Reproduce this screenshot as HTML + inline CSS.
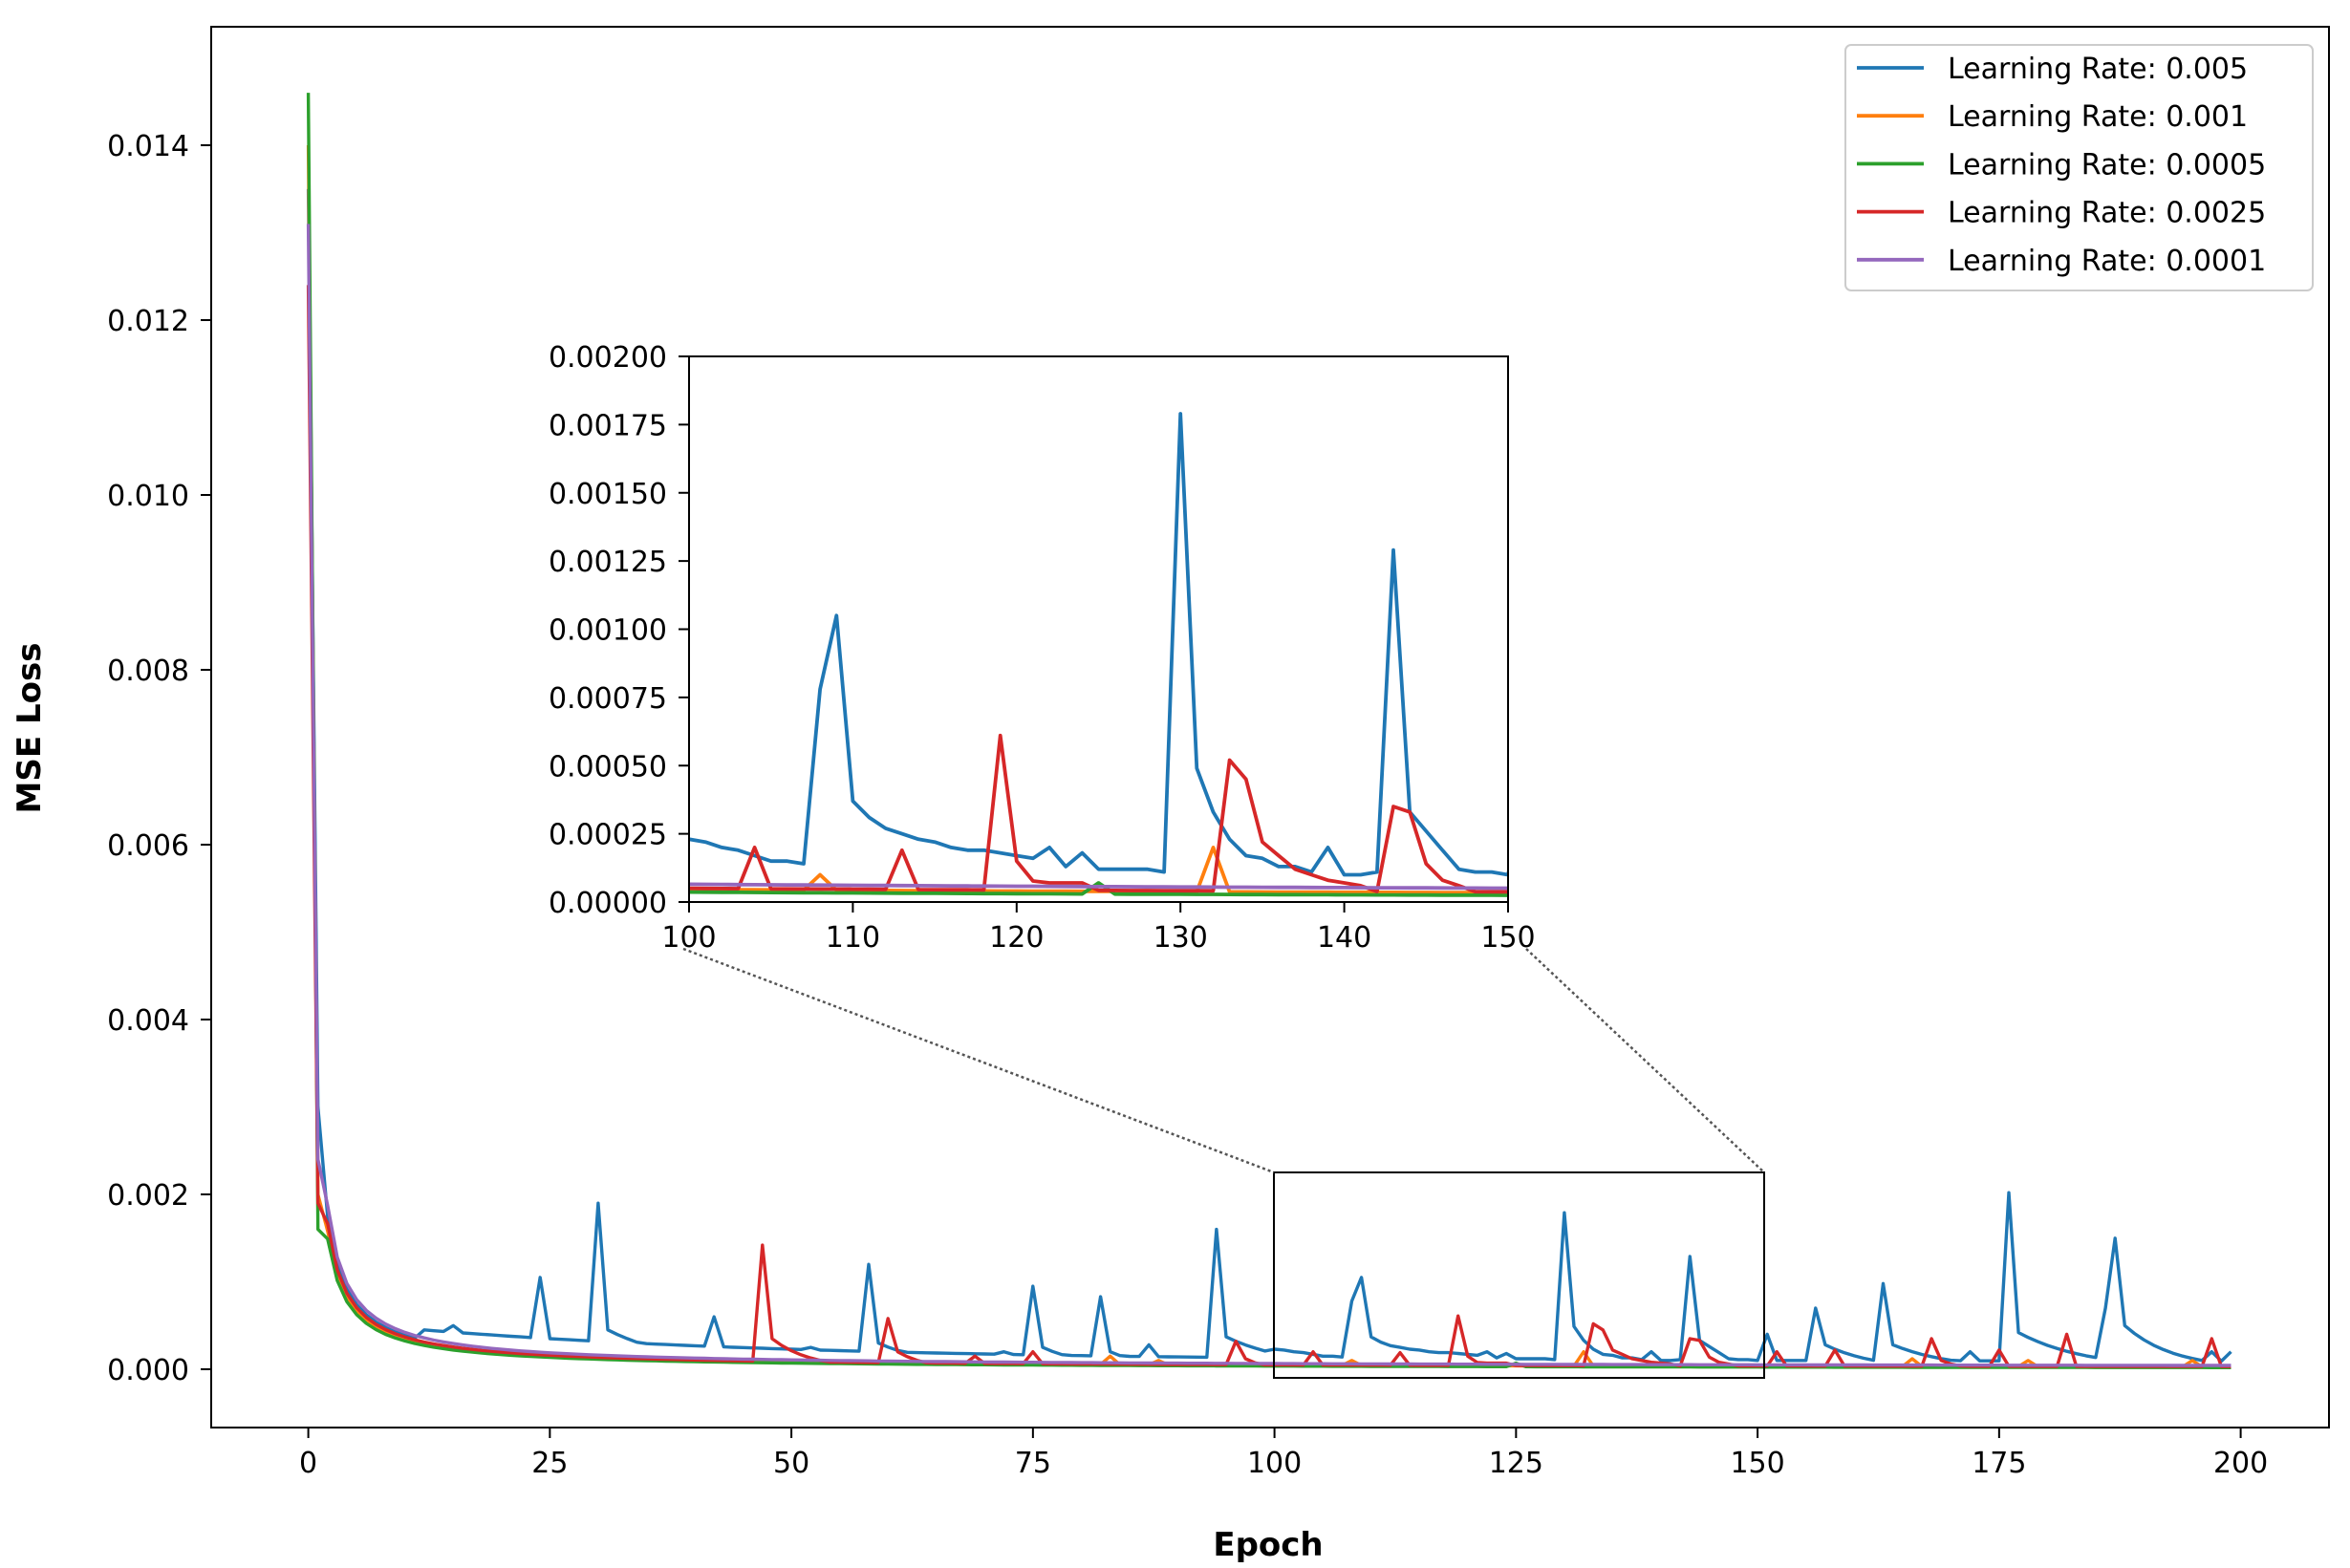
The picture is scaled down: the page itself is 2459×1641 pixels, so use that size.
<!DOCTYPE html>
<html><head><meta charset="utf-8"><style>
html,body{margin:0;padding:0;background:#fff;}
svg{display:block;font-family:"DejaVu Sans","Liberation Sans",sans-serif;}
</style></head><body>
<svg id="s" width="2459" height="1641" viewBox="0 0 2459 1641" xmlns="http://www.w3.org/2000/svg">
<rect width="2459" height="1641" fill="#fff"/>
<defs>
<clipPath id="cm"><rect x="221" y="28" width="2216" height="1466"/></clipPath>
<clipPath id="ci"><rect x="721" y="373" width="857" height="571"/></clipPath>
</defs>
<g id="main" clip-path="url(#cm)"></g>
<rect x="221" y="28" width="2216" height="1466" fill="none" stroke="#000" stroke-width="2"/>
<g id="mt" font-size="30" fill="#000"></g>
<text x="1327" y="1628" font-size="34" font-weight="bold" text-anchor="middle">Epoch</text>
<text transform="translate(42,762) rotate(-90)" font-size="34" font-weight="bold" text-anchor="middle">MSE Loss</text>
<rect x="1333" y="1227" width="513" height="215" fill="none" stroke="#000" stroke-width="2"/>
<line x1="715" y1="993" x2="1333" y2="1227" stroke="#555" stroke-width="2.5" stroke-dasharray="3,3"/>
<line x1="1597" y1="993" x2="1846" y2="1227" stroke="#555" stroke-width="2.5" stroke-dasharray="3,3"/>
<rect x="721" y="373" width="857" height="571" fill="#fff"/>
<g id="ins" clip-path="url(#ci)"></g>
<rect x="721" y="373" width="857" height="571" fill="none" stroke="#000" stroke-width="2"/>
<g id="it" font-size="30" fill="#000"></g>
<g id="leg">
<rect x="1931" y="47" width="489" height="257" rx="6" fill="#fff" stroke="#ccc" stroke-width="2"/>
</g>
</svg>
<script>
var C=["#1f77b4","#ff7f0e","#2ca02c","#d62728","#9467bd"];
var L=["Learning Rate: 0.005","Learning Rate: 0.001","Learning Rate: 0.0005","Learning Rate: 0.0025","Learning Rate: 0.0001"];
var N=200,S=[[],[],[],[],[]];
var starts=[0.0135,0.0140,0.0146,0.0124,0.0131];
var ones=[0.0030,0.0020,0.0016,0.0019,0.0024];
var mult=[1.05,0.95,0.9,1.0,1.12];
var bases=[0.00001,0.000008,0.0,0.00001,0.00002];
for(var e=0;e<N;e++){
 for(var i=0;i<5;i++){
  var v;
  if(e==0)v=starts[i];else if(e==1)v=ones[i];
  else{ v=bases[i]+0.0032*mult[i]*Math.pow(e,-0.95); }
  S[i].push(v);
 }
}
var b=S[0];
for(var e=12;e<N;e++){b[e]=Math.max(b[e],0.00009+0.00026*Math.exp(-(e-25)/40));}
function spike(arr,s,h,tail,k){arr[s]=h; if(tail){for(var j=1;j<30&&s+j<N;j++){var t=tail*Math.exp(-(j-1)/k); if(t>arr[s+j])arr[s+j]=t;}}}
var bs=[[15,0.0005,0],[24,0.00105,0.00032,6],[30,0.0019,0.00045,8],[42,0.0006,0.00022,4],[52,0.00025,0],[58,0.0012,0.0003,6],[72,0.0002,0],[75,0.00095,0.00025,5],[82,0.00083,0.0002,4],[87,0.00028,0],[94,0.0016,0.00037,7],
[108,0.00078,0],[109,0.00105,0.00037,9],[122,0.0002,0],[124,0.00018,0],[130,0.00179,0.00049,2.5],[139,0.0002,0],[143,0.00129,0.00033,2.5],[151,0.0004,0],[156,0.0007,0.00028,5],[163,0.00098,0.00028,6],[172,0.0002,0],[176,0.00202,0.00042,7],[186,0.0007,0],[187,0.0015,0.0005,5],[197,0.0002,0],[199,0.0002,0]];
var bd={100:0.00023,101:0.00022,102:0.0002,103:0.00019,104:0.00017,105:0.00015,106:0.00015,107:0.00014,121:0.00016,123:0.00013,125:0.00012,126:0.00012,127:0.00012,128:0.00012,129:0.00011,140:0.0001,141:0.0001,142:0.00011,148:0.00011,149:0.00011};
bs.forEach(function(p){spike(b,p[0],p[1],p[2],p[3]||5);});
for(var k in bd)b[+k]=bd[k];
b[110]=0.00037;b[144]=0.00033;b[145]=0.00026;b[146]=0.00019;b[147]=0.00012;b[150]=0.0001;
b[131]=0.00049;b[132]=0.00033;b[133]=0.00023;b[134]=0.00017;b[135]=0.00016;b[136]=0.00013;b[137]=0.00013;b[138]=0.00011;
var bt=[0.00031,0.00027,0.00025,0.00023,0.00022,0.0002,0.00019,0.00019,0.00018,0.00017];
for(var e=111;e<=120;e++)b[e]=bt[e-111];
var r=S[3];
[[47,0.00142,0.00035,4],[60,0.00058,0.0002,3],[69,0.00015,0],[75,0.0002,0],[96,0.00032,0.00012,2],[104,0.0002,0],[113,0.00019,0],[119,0.00061,0.00015,1.5],[133,0.00052,0],[143,0.00035,0],[152,0.0002,0],[158,0.00022,0],[168,0.00035,0.0001,2],[175,0.00022,0],[182,0.0004,0],[197,0.00035,0]].forEach(function(p){spike(r,p[0],p[1],p[2],p[3]||3);});
r[134]=0.00045;r[135]=0.00022;r[136]=0.00017;r[137]=0.00012;r[138]=0.0001;r[139]=0.00008;r[140]=0.00007;r[141]=0.00006;r[144]=0.00033;r[145]=0.00014;r[146]=0.00008;r[147]=0.00006;
r[122]=0.00007;r[123]=0.00007;r[124]=0.00007;
var o=S[1];[[83,0.00015],[88,0.0001],[108,0.0001],[132,0.0002],[166,0.00012],[178,0.0001],[195,0.0001]].forEach(function(p){o[p[0]]=p[1];});
S[2][125]=0.00007;
function pts(arr,X,Y,a,z){var s=[];for(var e=a;e<=z&&e<N;e++)s.push(X(e).toFixed(1)+","+Y(arr[e]).toFixed(1));return s.join(" ");}
var NS="http://www.w3.org/2000/svg";
function el(t,at,p){var x=document.createElementNS(NS,t);for(var k in at)x.setAttribute(k,at[k]);p.appendChild(x);return x;}
var MX=function(e){return 322.6+e*10.11},MY=function(v){return 1433-v/0.002*183};
var IX=function(e){return 721+(e-100)*17.14},IY=function(v){return 944-v/0.002*571};
var gm=document.getElementById("main"),gi=document.getElementById("ins");
for(var i=0;i<5;i++){
 el("polyline",{points:pts(S[i],MX,MY,0,199),fill:"none",stroke:C[i],"stroke-width":3.4,"stroke-linejoin":"round"},gm);
 el("polyline",{points:pts(S[i],IX,IY,99,151),fill:"none",stroke:C[i],"stroke-width":3.8,"stroke-linejoin":"round"},gi);
}
var mt=document.getElementById("mt");
for(var t=0;t<=200;t+=25){var x=MX(t);el("line",{x1:x,y1:1494,x2:x,y2:1505,stroke:"#000","stroke-width":2},mt);var tx=el("text",{x:x,y:1541,"text-anchor":"middle"},mt);tx.textContent=t;}
for(var k=0;k<=7;k++){var v=k*0.002,y=MY(v);el("line",{x1:210,y1:y,x2:221,y2:y,stroke:"#000","stroke-width":2},mt);var tx=el("text",{x:198,y:y+11,"text-anchor":"end"},mt);tx.textContent=v.toFixed(3);}
var it=document.getElementById("it");
for(var t=100;t<=150;t+=10){var x=IX(t);el("line",{x1:x,y1:944,x2:x,y2:955,stroke:"#000","stroke-width":2},it);var tx=el("text",{x:x,y:991,"text-anchor":"middle"},it);tx.textContent=t;}
for(var k=0;k<=8;k++){var v=k*0.00025,y=IY(v);el("line",{x1:710,y1:y,x2:721,y2:y,stroke:"#000","stroke-width":2},it);var tx=el("text",{x:698,y:y+11,"text-anchor":"end"},it);tx.textContent=v.toFixed(5);}
var lg=document.getElementById("leg");
for(var i=0;i<5;i++){var y=71+i*50.2;el("line",{x1:1943,y1:y,x2:2013,y2:y,stroke:C[i],"stroke-width":3.8},lg);var tx=el("text",{x:2038,y:y+11,"font-size":"30"},lg);tx.textContent=L[i];}
</script>
</body></html>
